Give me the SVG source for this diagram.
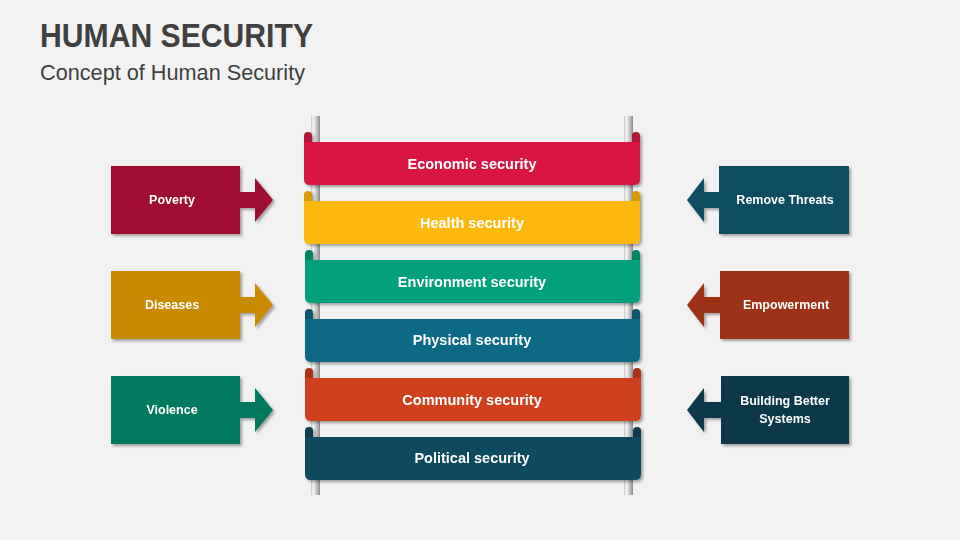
<svg xmlns="http://www.w3.org/2000/svg" width="960" height="540" viewBox="0 0 960 540">
<defs>
<filter id="sh" x="-10%" y="-10%" width="125%" height="140%">
<feDropShadow dx="2" dy="2" stdDeviation="1.5" flood-color="#000" flood-opacity="0.35"/>
</filter>
<linearGradient id="pole" x1="0" y1="0" x2="1" y2="0">
<stop offset="0" stop-color="#c4c4c4"/>
<stop offset="0.25" stop-color="#f6f6f6"/>
<stop offset="0.6" stop-color="#c8c8c8"/>
<stop offset="1" stop-color="#8a8a8a"/>
</linearGradient>
<style>
.title{font-family:"Liberation Sans",Arial,sans-serif;font-weight:bold;fill:#404040}
.sub{font-family:"Liberation Sans",Arial,sans-serif;fill:#404040}
.bt{font-family:"Liberation Sans",Arial,sans-serif;font-weight:bold;font-size:14.5px;fill:#fff;text-anchor:middle}
.st{font-family:"Liberation Sans",Arial,sans-serif;font-weight:bold;font-size:12.5px;fill:#fff;text-anchor:middle}
</style>
</defs>
<rect width="960" height="540" fill="#f2f2f2"/>
<text class="title" x="40" y="47" font-size="33" textLength="273" lengthAdjust="spacingAndGlyphs">HUMAN SECURITY</text>
<text class="sub" x="40" y="80" font-size="22" textLength="265" lengthAdjust="spacingAndGlyphs">Concept of Human Security</text>

<g id="poles">
<rect x="311" y="116" width="9" height="379" fill="url(#pole)"/>
<rect x="624" y="116" width="9" height="379" fill="url(#pole)"/>
</g>

<g id="band-economic" filter="url(#sh)">
<rect x="304" y="132" width="8" height="16" rx="4" fill="#b01236"/>
<rect x="632" y="132" width="8" height="16" rx="4" fill="#b01236"/>
<path d="M304 142 H640 V179 Q640 185 634 185 H310 Q304 185 304 179 Z" fill="#d91643"/>
<text class="bt" x="472" y="169">Economic security</text>
</g>
<g id="band-health" filter="url(#sh)">
<rect x="304" y="191" width="8" height="16" rx="4" fill="#d99a06"/>
<rect x="632" y="191" width="8" height="16" rx="4" fill="#d99a06"/>
<path d="M304 201 H640 V238 Q640 244 634 244 H310 Q304 244 304 238 Z" fill="#feb711"/>
<text class="bt" x="472" y="228">Health security</text>
</g>
<g id="band-environment" filter="url(#sh)">
<rect x="305" y="250" width="8" height="16" rx="4" fill="#058563"/>
<rect x="632" y="250" width="8" height="16" rx="4" fill="#058563"/>
<path d="M305 260 H640 V297 Q640 303 634 303 H311 Q305 303 305 297 Z" fill="#06a17a"/>
<text class="bt" x="472" y="287">Environment security</text>
</g>
<g id="band-physical" filter="url(#sh)">
<rect x="305" y="309" width="8" height="16" rx="4" fill="#0b5670"/>
<rect x="632" y="309" width="8" height="16" rx="4" fill="#0b5670"/>
<path d="M305 319 H640 V356 Q640 362 634 362 H311 Q305 362 305 356 Z" fill="#0f6985"/>
<text class="bt" x="472" y="345">Physical security</text>
</g>
<g id="band-community" filter="url(#sh)">
<rect x="305" y="368" width="8" height="16" rx="4" fill="#ae3317"/>
<rect x="633" y="368" width="8" height="16" rx="4" fill="#ae3317"/>
<path d="M305 378 H641 V415 Q641 421 635 421 H311 Q305 421 305 415 Z" fill="#cf411d"/>
<text class="bt" x="472" y="405">Community security</text>
</g>
<g id="band-political" filter="url(#sh)">
<rect x="305" y="427" width="8" height="16" rx="4" fill="#073c4d"/>
<rect x="633" y="427" width="8" height="16" rx="4" fill="#073c4d"/>
<path d="M305 437 H641 V474 Q641 480 635 480 H311 Q305 480 305 474 Z" fill="#0a4a5e"/>
<text class="bt" x="472" y="463">Political security</text>
</g>

<g id="connectors"></g>

<g id="poverty" filter="url(#sh)">
<path d="M111 166 H240 V192 H255 V178 L273 200 L255 222 V208 H240 V234 H111 Z" fill="#a01033"/>
<text class="st" x="172" y="204">Poverty</text>
</g>
<g id="diseases" filter="url(#sh)">
<path d="M111 271 H240 V297 H255 V283 L273 305 L255 327 V313 H240 V339 H111 Z" fill="#c98a00"/>
<text class="st" x="172" y="309">Diseases</text>
</g>
<g id="violence" filter="url(#sh)">
<path d="M111 376 H240 V402 H255 V388 L273 410 L255 432 V418 H240 V444 H111 Z" fill="#047a5e"/>
<text class="st" x="172" y="414">Violence</text>
</g>

<g id="remove-threats" filter="url(#sh)">
<path d="M849 166 H719 V192 H704 V178 L687 200 L704 222 V208 H719 V234 H849 Z" fill="#0a4d62"/>
<text class="st" x="785" y="204">Remove Threats</text>
</g>
<g id="empowerment" filter="url(#sh)">
<path d="M849 271 H720 V297 H704 V283 L687 305 L704 327 V313 H720 V339 H849 Z" fill="#9e3016"/>
<text class="st" x="786" y="309">Empowerment</text>
</g>
<g id="building-better-systems" filter="url(#sh)">
<path d="M849 376 H721 V402 H704 V388 L687 410 L704 432 V418 H721 V444 H849 Z" fill="#08394a"/>
<text class="st" x="785" y="405">Building Better</text>
<text class="st" x="785" y="423">Systems</text>
</g>
</svg>
